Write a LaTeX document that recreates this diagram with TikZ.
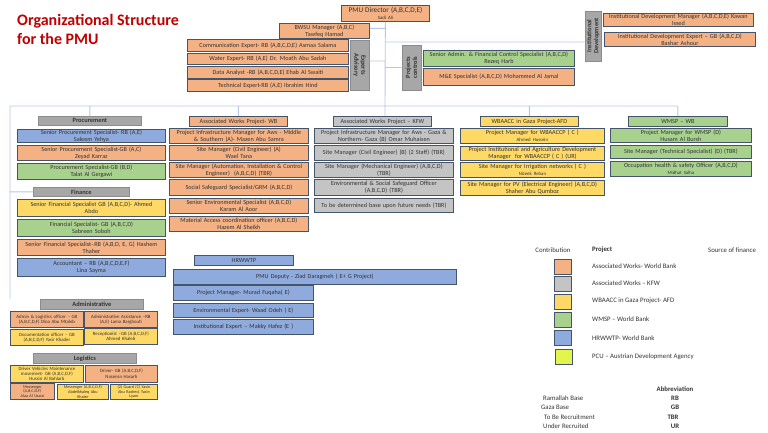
\documentclass[tikz,border=0pt]{standalone}
\usepackage{fontspec}
\setmainfont{Carlito}
\usepackage{tikz}
\definecolor{wbc}{HTML}{F4B183}
\definecolor{kfwc}{HTML}{C4C4C4}
\definecolor{afdc}{HTML}{FFD966}
\definecolor{wmspc}{HTML}{A9D18E}
\definecolor{hrwc}{HTML}{8FAADC}
\definecolor{pcuc}{HTML}{E2F54F}
\definecolor{edgec}{HTML}{44546A}
\definecolor{linec}{HTML}{B4C7E7}
\definecolor{titlec}{HTML}{C00000}
\tikzset{
	wh/.style 2 args={text width=#1pt, minimum height=#2pt},
	pmubox/.style={rectangle, draw=edgec, line width=0.8pt, inner sep=0pt, align=center, anchor=north west, text=black!80, font=\fontsize{6.2}{7}\selectfont},
	wbbox/.style={pmubox, fill=wbc},
	kfwbox/.style={pmubox, fill=kfwc},
	afdbox/.style={pmubox, fill=afdc},
	wmspbox/.style={pmubox, fill=wmspc},
	hrwbox/.style={pmubox, fill=hrwc},
	headbox/.style={pmubox, fill=kfwc!85!black, draw=black!45, font=\fontsize{6.4}{7}\selectfont\bfseries},
	sidebox/.style={headbox, anchor=center, rotate=#1},
	smalltext/.style={font=\fontsize{4.8}{5.3}\selectfont},
	tinytext/.style={font=\fontsize{4.2}{4.7}\selectfont},
	swatch/.style={pmubox, text width=17pt, minimum height=15pt},
	legendtext/.style={anchor=west, inner sep=0pt, text=black!80, font=\fontsize{6.8}{8}\selectfont},
	legendhead/.style={legendtext, font=\fontsize{6.8}{8}\selectfont\bfseries},
	conn/.style={draw=linec, line width=0.9pt}
}
\begin{document}
\begin{tikzpicture}[x=1pt,y=-1pt]
	\useasboundingbox (0,0) rectangle (768,433);
	\node [anchor=north west, inner sep=0pt, align=left, text=titlec, font=\fontsize{16}{19}\selectfont\bfseries] (title) at (17,14) {Organizational Structure\\for the PMU};
	% top
	\node [wbbox, wh={88}{16}] (director) at (341,5) {{\fontsize{7.2}{7.4}\selectfont PMU Director (A,B,C,D,E)}\\{\fontsize{4.8}{5}\selectfont Sadi Ali}};
	\node [wbbox, wh={90}{15}] (bwsu) at (279,23) {BWSU Manager (A,B,C)\\Tawfeq Hamad};
	\node [wbbox, wh={161}{12}] (comm) at (187,39) {Communication Expert- RB (A,B,C,D,E) Asmaa Salama};
	\node [wbbox, wh={161}{11}] (water) at (187,53) {Water Expert- RB (A,E) Dr. Moath Abu Sadah};
	\node [wbbox, wh={161}{12}] (data) at (187,66) {Data Analyst -RB (A,B,C,D,E) Ehab Al Swaiti};
	\node [wbbox, wh={161}{12}] (tech) at (187,79) {Technical Expert-RB (A,E) Ibrahim Hind};
	\node [sidebox=-90, wh={50}{19}] (experts) at (359.5,65) {Experts\\Advisory};
	\node [sidebox=90, wh={45}{19}] (controls) at (411.5,67.5) {Projects\\controls};
	\node [wmspbox, wh={151}{16}] (admin) at (423,50) {Senior Admin. \& Financial Control Specialist (A,B,C,D)\\Rezeq Harb};
	\node [wbbox, wh={151}{17}] (me) at (423,68) {M\&E Specialist (A,B,C,D) Mohammed Al Jamal};
	\node [sidebox=90, wh={50}{16}] (instdev) at (593,36) {Institutional\\Development};
	\node [wbbox, wh={150}{13}] (instman) at (603,13) {Institutional Development Manager (A,B,C,D,E) Kawan\\Issed};
	\node [wbbox, wh={151}{14}] (instexp) at (604,32) {Institutional Development Expert -- GB (A,B,C,D)\\Bashar Ashour};
	% procurement and finance
	\node [headbox, wh={103}{9}] (proc) at (38,116) {Procurement};
	\node [hrwbox, wh={148}{13}] (proca) at (17,129) {Senior Procurement Specialist- RB (A,E)\\Saleem Yehya};
	\node [wbbox, wh={148}{15}] (procb) at (17,145) {Senior Procurement Specialist-GB (A,C)\\Zeyad Karraz};
	\node [wmspbox, wh={148}{16}] (procc) at (17,163) {Procurement Specialist-GB (B,D)\\Talat Al Gergawi};
	\node [headbox, wh={96}{9}] (fin) at (33,187) {Finance};
	\node [afdbox, wh={148}{17}] (fina) at (17,199) {Senior Financial Specialist GB (A,B,C,D)- Ahmed\\Abdo};
	\node [wmspbox, wh={148}{17}] (finb) at (17,219) {Financial Specialist- GB (A,B,C,D)\\Sabreen Soboh};
	\node [wbbox, wh={148}{16}] (finc) at (17,239) {Senior Financial Specialist--RB (A,B,D, E, G) Hashem\\Thaher};
	\node [hrwbox, wh={148}{18}] (find) at (17,258) {Accountant -- RB (A,B,C,D,E,F)\\Lina Sayma};
	% administrative and logistics
	\node [headbox, wh={103}{10}] (adm) at (40,299) {Administrative};
	\node [wbbox, smalltext, wh={73}{16}] (adma) at (10,311) {Admin \& Logistics officer -- GB\\(A,B,C,D,F) Dina Abu Mtaleb};
	\node [wbbox, smalltext, wh={73}{16}] (admb) at (84,311) {Administrative Assistance --RB\\(A,E) Lama Barghouti};
	\node [afdbox, smalltext, wh={73}{16}] (admc) at (10,329) {Documentation officer -- GB\\(A,B,C,D,F) Yasir Khader};
	\node [afdbox, smalltext, wh={73}{16}] (admd) at (84,328) {Receptionist --GB (A,B,C,D,F)\\Ahmed Khaleb};
	\node [headbox, wh={103}{10}] (log) at (33,353) {Logistics};
	\node [afdbox, smalltext, wh={73}{17}] (loga) at (10,365) {Driver Vehicles Maintenance\\movement- GB (A,B,C,D,F)\\Hussin Al Bahlarb};
	\node [wbbox, smalltext, wh={72}{17}] (logb) at (85,365) {Driver- GB (A,B,C,D,F)\\Nasensn Hasarh};
	\node [wbbox, tinytext, wh={44}{16}] (logc) at (10,383) {Messenger\\(A,B,C,D,F)\\Alaa Al Uzaizi};
	\node [afdbox, tinytext, wh={51}{15}] (logd) at (57,384) {Messenger (A,B,C,D,F)\\Abdelkhaleq Abu\\Khater};
	\node [afdbox, tinytext, wh={47}{15}] (loge) at (110,384) {(2) Guard (C) Yasin\\Abu Rashed, Yasin\\Lyam};
	% associated works wb
	\node [wbbox, wh={98}{10}] (wb) at (189,116) {Associated Works Project- WB};
	\node [wbbox, wh={139}{15}] (wba) at (169,128) {Project Infrastructure Manager for Aws - Middle\\\& Southern (A)- Mazen Abu Samra};
	\node [wbbox, wh={139}{15}] (wbb) at (169,145) {Site Manager (Civil Engineer) (A)\\Wael Tana};
	\node [wbbox, wh={139}{15}] (wbc) at (169,162) {Site Manager (Automation, Installation \& Control\\Engineer)\ \ (A,B,C,D) (TBR)};
	\node [wbbox, wh={139}{16}] (wbd) at (169,179) {Social Safeguard Specialist/GRM (A,B,C,D)};
	\node [wbbox, wh={139}{15}] (wbe) at (169,198) {Senior Environmental Specialist (A,B,C,D)\\Karam Al Aoor};
	\node [wbbox, wh={139}{15}] (wbf) at (169,216) {Material Access coordination officer (A,B,C,D)\\Hazem Al Sheikh};
	% associated works kfw
	\node [kfwbox, wh={98}{10}] (kfw) at (333,116) {Associated Works Project -- KFW};
	\node [kfwbox, wh={139}{15}] (kfwa) at (314,128) {Project Infrastructure Manager for Aws - Gaza \&\\Northern- Gaza (B) Omar Muhaisen};
	\node [kfwbox, wh={139}{15}] (kfwb) at (314,145) {Site Manager (Civil Engineer) (B) (2 Staff) (TBR)};
	\node [kfwbox, wh={139}{15}] (kfwc) at (314,162) {Site Manager (Mechanical Engineer) (A,B,C,D)\\(TBR)};
	\node [kfwbox, wh={139}{16}] (kfwd) at (314,179) {Environmental \& Social Safeguard Officer\\(A,B,C,D) (TBR)};
	\node [kfwbox, wh={139}{14}] (kfwe) at (314,198) {To be determined base upon future needs (TBR)};
	% wbaacc
	\node [afdbox, wh={98}{10}] (afd) at (480,116) {WBAACC in Gaza Project-AFD};
	\node [afdbox, wh={144}{15}] (afda) at (460,128) {Project Manager for WBAACCP ( C )\\{\fontsize{4.8}{5}\selectfont Ahmed Hussein}};
	\node [afdbox, wh={144}{14}] (afdb) at (460,146) {Project Institutional and Agriculture Development\\Manager\ \ for WBAACCP ( C ) (UR)};
	\node [afdbox, wh={144}{15}] (afdc) at (460,162) {Site Manager for Irrigation networks ( C )\\{\fontsize{4.8}{5}\selectfont Nizeek Rehan}};
	\node [afdbox, wh={144}{15}] (afdd) at (460,180) {Site Manager for PV (Electrical Engineer) (A,B,C,D)\\Shaher Abu Qumboz};
	% wmsp
	\node [wmspbox, wh={99}{10}] (wmsp) at (628,116) {WMSP -- WB};
	\node [wmspbox, wh={141}{14}] (wmspa) at (610,128) {Project Manager for WMSP (D)\\Husam Al Bursh};
	\node [wmspbox, wh={141}{13}] (wmspb) at (610,145) {Site Manager (Technical Specialist) (D) (TBR)};
	\node [wmspbox, wh={141}{15}] (wmspc) at (610,161) {Occupation health \& safety Officer (A,B,C,D)\\{\fontsize{4.8}{5}\selectfont Midhat Salha}};
	% hrwwtp
	\node [hrwbox, wh={99}{10}] (hrw) at (194,255) {HRWWTP};
	\node [hrwbox, wh={283}{15}] (deputy) at (173,269) {PMU Deputy - Ziad Daragmeh ( E+ G Project)};
	\node [hrwbox, wh={140}{15}] (hrwa) at (173,285) {Project Manager- Murad Fuqaha( E)};
	\node [hrwbox, wh={140}{14}] (hrwb) at (173,303) {Environmental Expert- Waad Odeh ( E)};
	\node [hrwbox, wh={140}{15}] (hrwc) at (173,319) {Institutional Expert -- Makky Hafez (E )};
	% connectors
	\coordinate (busl) at (10,106);
	\coordinate (busr) at (677,106);
	\coordinate (spine) at (385,106);
	\coordinate (leftend) at (10,299);
	\path[conn]
	(director) -- (spine)
	(busl) -- (busr)
	(busl) -- (leftend)
	(busl -| proc) -- (proc)
	(busl -| wb) -- (wb)
	(spine) -- (spine |- kfw.north)
	(busl -| afd) -- (afd)
	(busl -| wmsp) -- (wmsp)
	(fin) -- (fin -| busl)
	([yshift=2.5pt]bwsu.east) -- ([yshift=2.5pt]bwsu.east -| spine)
	([yshift=4pt]experts.north) -- ([yshift=4pt]experts.north -| spine)
	(controls.north) -- (controls.north -| spine)
	([yshift=-6pt]instdev.north) -- ([yshift=-6pt]instdev.north -| spine)
	;
	% legend
	\node [legendtext, anchor=center] (contrib) at (553,250) {Contribution};
	\node [legendhead] (project) at (592,250) {Project};
	\node [legendtext] (source) at (708,250) {Source of finance};
	\node [swatch, fill=wbc] (swa) at (554,259) {};
	\node [swatch, fill=kfwc] (swb) at (554,276) {};
	\node [swatch, fill=afdc] (swc) at (554,294) {};
	\node [swatch, fill=wmspc] (swd) at (554,312) {};
	\node [swatch, fill=hrwc] (swe) at (554,330) {};
	\node [swatch, fill=pcuc] (swf) at (555,349) {};
	\node [legendtext] (lga) at (592,266) {Associated Works- World Bank};
	\node [legendtext] (lgb) at (592,283) {Associated Works -- KFW};
	\node [legendtext] (lgc) at (592,301) {WBAACC in Gaza Project- AFD};
	\node [legendtext] (lgd) at (592,319) {WMSP -- World Bank};
	\node [legendtext] (lge) at (592,338) {HRWWTP- World Bank};
	\node [legendtext] (lgf) at (592,357) {PCU -- Austrian Development Agency};
	% abbreviations
	\node [legendhead, anchor=center] (abbr) at (675,389) {Abbreviation};
	\node [legendtext] (ram) at (543,398) {Ramallah Base};
	\node [legendtext] (gaza) at (541,407) {Gaza Base};
	\node [legendtext] (tobe) at (544,417) {To Be Recruitment};
	\node [legendtext] (under) at (543,426) {Under Recruited};
	\node [legendhead, anchor=center] (rb) at (675,398) {RB};
	\node [legendhead, anchor=center] (gb) at (675,407) {GB};
	\node [legendhead, anchor=center] (tbr) at (673,417) {TBR};
	\node [legendhead, anchor=center] (ur) at (675,426) {UR};
\end{tikzpicture}
\end{document}
